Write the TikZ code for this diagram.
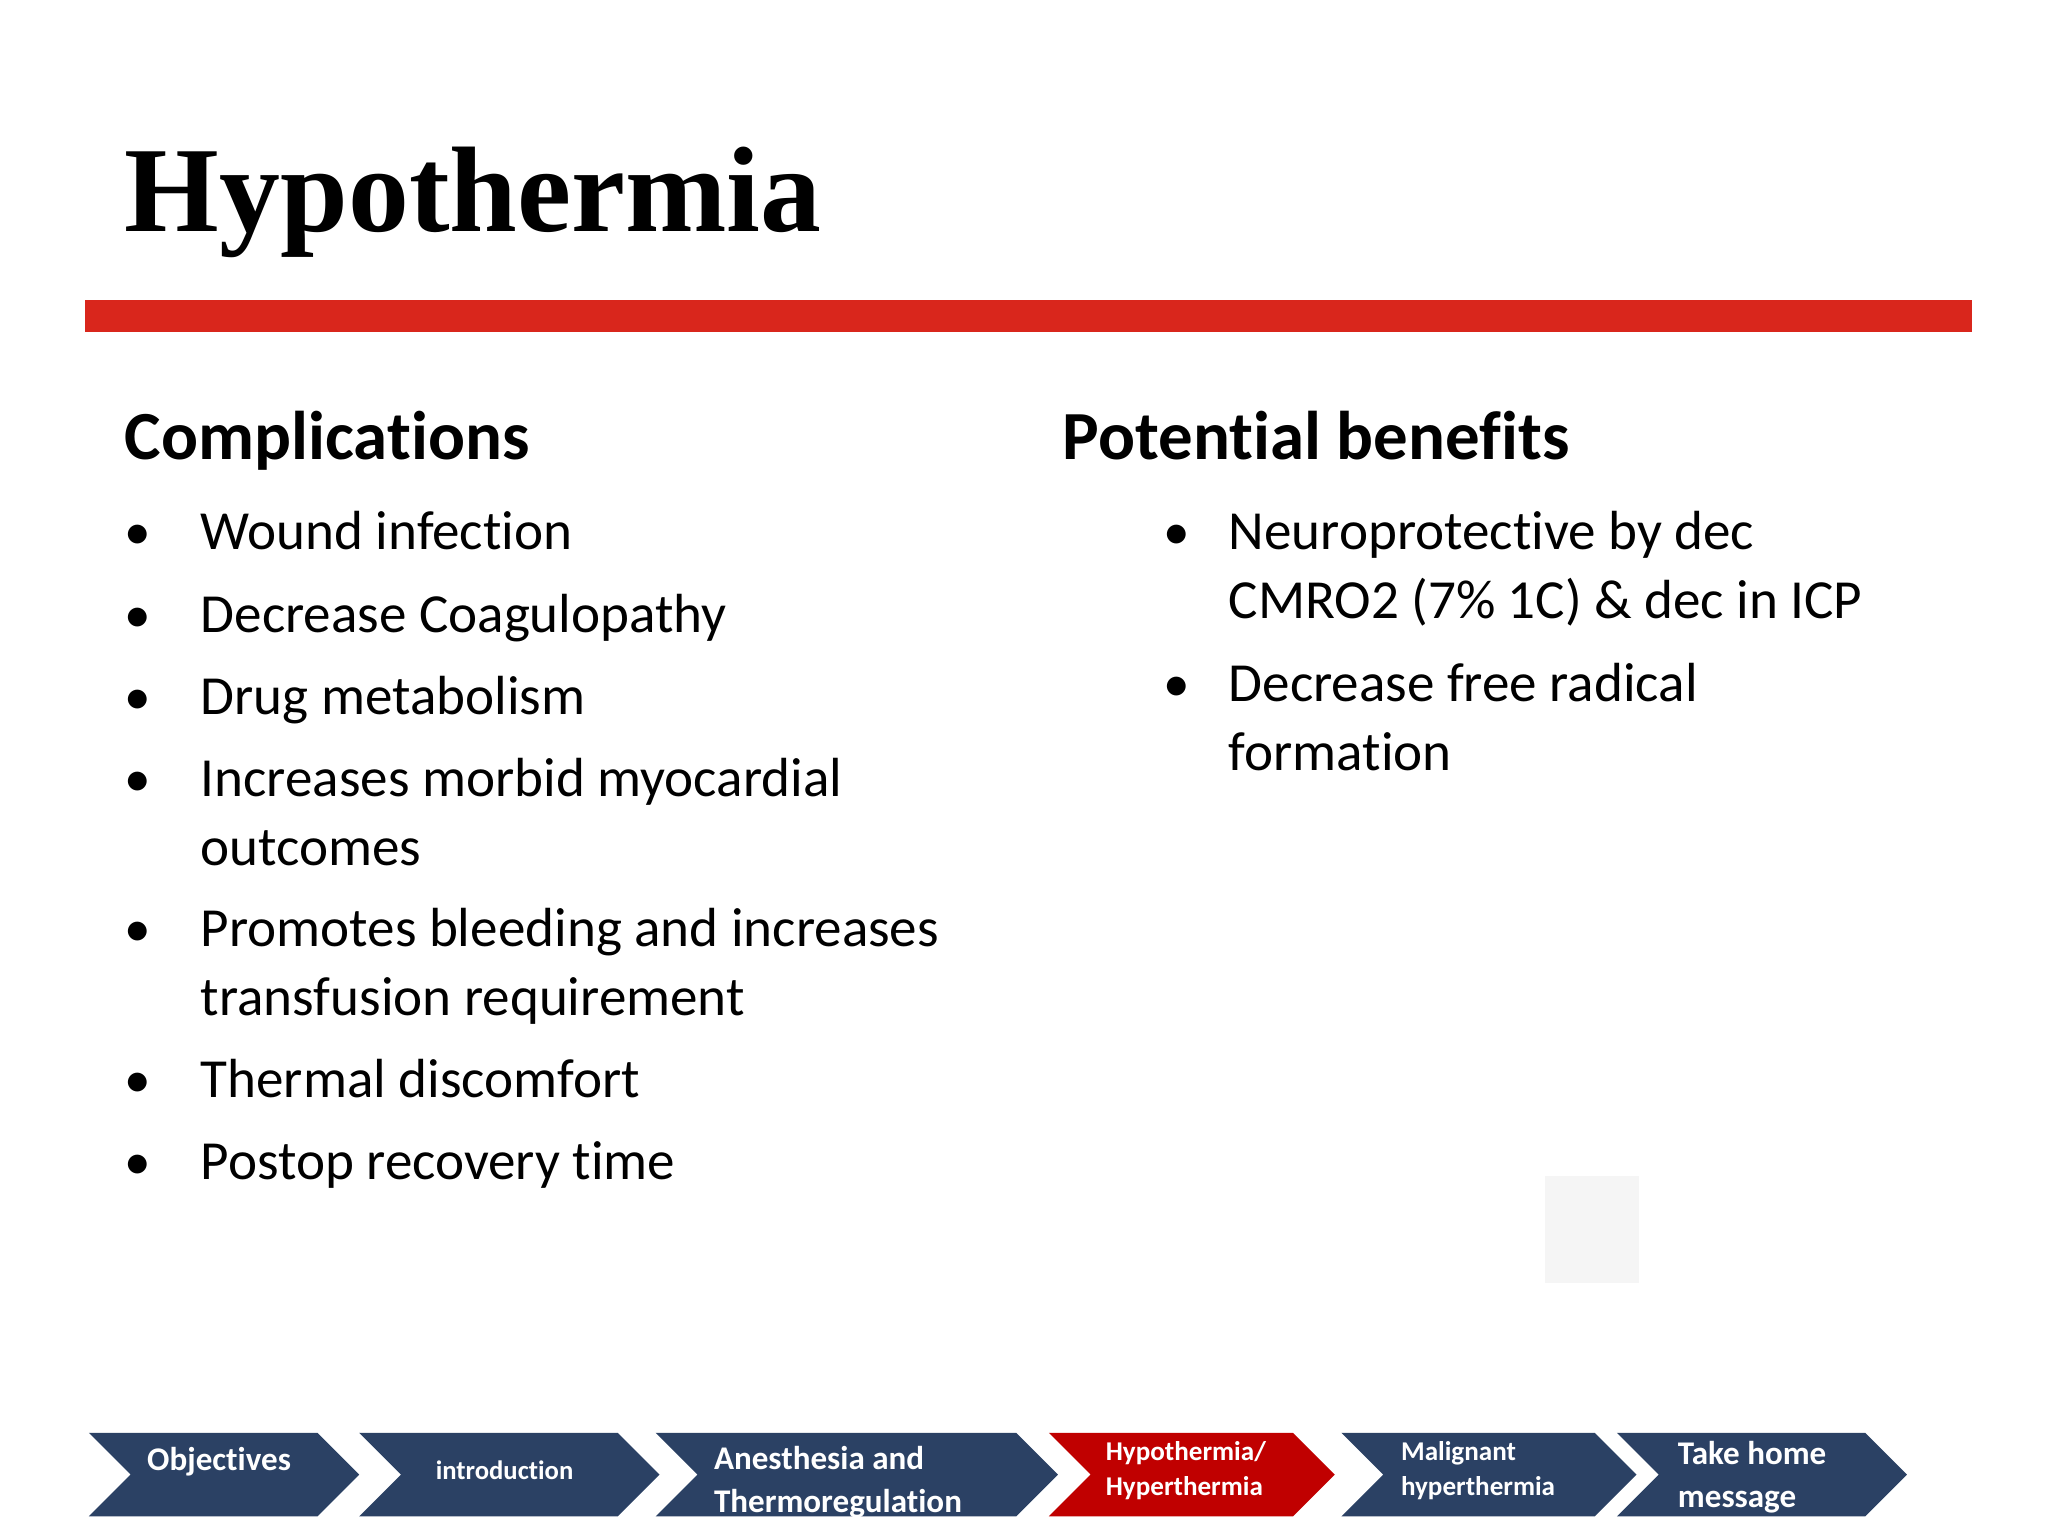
\documentclass[tikz,border=0pt]{standalone}
\usepackage{fontspec}
\setmainfont{Carlito}[Ligatures={NoCommon}]
\newfontfamily\titlefont{Liberation Serif}
\definecolor{barred}{HTML}{D9261C}
\definecolor{navy}{HTML}{2B4164}
\definecolor{chevred}{HTML}{C00000}
\newcommand{\ml}[1]{\begin{tabular}[t]{@{}l@{}}#1\end{tabular}}
\begin{document}
\begin{tikzpicture}[x=0.01cm,y=-0.01cm,
  body/.style={anchor=base west,inner sep=0,font=\fontsize{12}{15}\selectfont},
  bul/.style={anchor=base west,inner sep=0,font=\fontsize{11.6}{15}\selectfont},
  head/.style={anchor=base west,inner sep=0,font=\fontsize{15}{18}\selectfont\bfseries},
  chevtxt/.style={anchor=west,inner sep=0,text=white,align=left}]
\useasboundingbox (0,0) rectangle (1568,1176);
\fill[white] (0,0) rectangle (1568,1176);
\node[anchor=base west,inner sep=0,font=\titlefont\fontsize{26.5}{30}\selectfont\bfseries] (title) at (95,177) {Hypothermia};
\fill[barred] (65,230) rectangle (1510,254);
\fill[black!4] (1183,900) rectangle (1255,982);
\node[head] (h1) at (95,352) {Complications};
\node[head] (h2) at (813,352) {Potential benefits};
\foreach \y/\t in {421/Wound infection,484/Decrease Coagulopathy,547/Drug metabolism,610/{Increases morbid myocardial\\outcomes},725/{Promotes bleeding and increases\\transfusion requirement},840/Thermal discomfort,903/Postop recovery time}{
  \node[bul] at (95,\y) {•};
  \node[body] at (153,\y) {\ml{\t}};
}
\foreach \y/\t in {421/{Neuroprotective by dec\\CMRO2 (7\% 1C) \& dec in ICP},537/{Decrease free radical\\formation}}{
  \node[bul] at (890,\y) {•};
  \node[body] at (940,\y) {\ml{\t}};
}
% chevrons
\def\chevron#1#2#3{\fill[#3] (#1,1097) -- (#2-32,1097) -- (#2,1129) -- (#2-32,1161) -- (#1,1161) -- (#1+32,1129) -- cycle;}
\chevron{68}{275}{navy}
\chevron{275}{505}{navy}
\chevron{502}{810}{navy}
\chevron{803}{1022}{chevred}
\chevron{1027}{1253}{navy}
\chevron{1238}{1460}{navy}
\begin{scope}
\clip (0,0) rectangle (1568,1163);
\node[chevtxt,font=\fontsize{7.2}{8}\selectfont\bfseries] (c1) at (112,1119) {Objectives};
\node[chevtxt,font=\fontsize{5.8}{7}\selectfont\bfseries] (c2) at (333,1126) {introduction};
\node[chevtxt,anchor=north west,font=\fontsize{7.2}{9.3}\selectfont\bfseries] (c3) at (546,1107) {Anesthesia and\\Thermoregulation};
\node[chevtxt,anchor=north west,font=\fontsize{5.9}{7.6}\selectfont\bfseries] (c4) at (846,1103) {Hypothermia/\\Hyperthermia};
\node[chevtxt,anchor=north west,font=\fontsize{5.9}{7.6}\selectfont\bfseries] (c5) at (1072,1103) {Malignant\\hyperthermia};
\node[chevtxt,anchor=north west,font=\fontsize{7.2}{9.3}\selectfont\bfseries] (c6) at (1284,1103) {Take home\\message};
\end{scope}
\end{tikzpicture}
\end{document}
